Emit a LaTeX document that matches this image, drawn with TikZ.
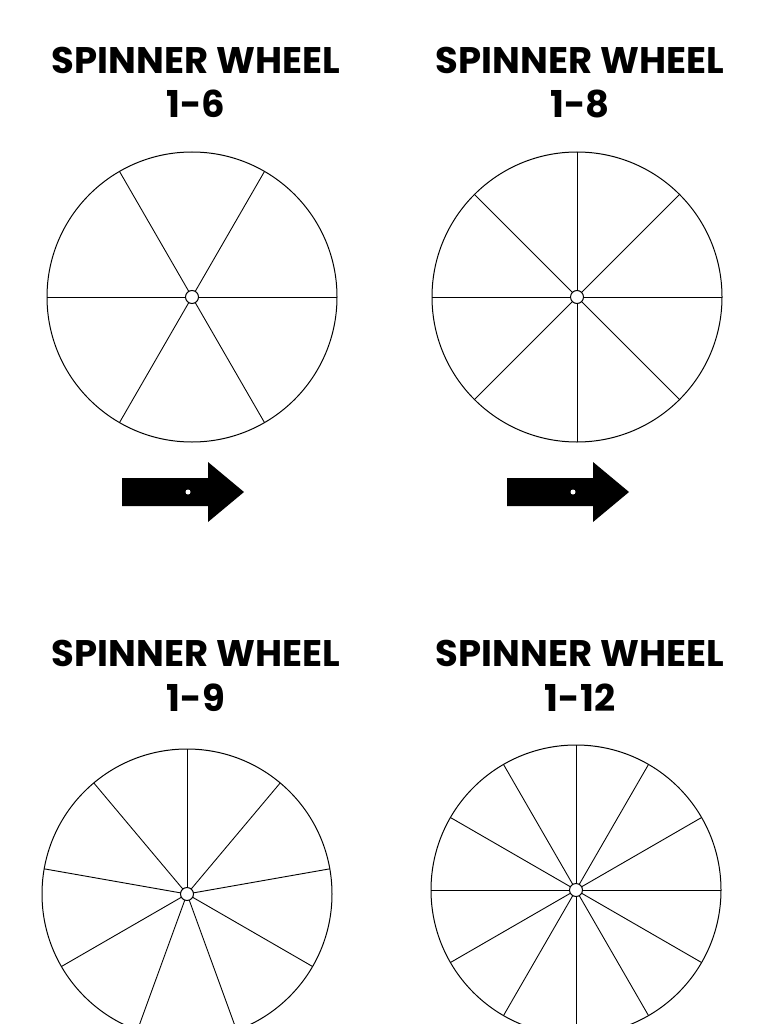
\documentclass[tikz,border=0pt]{standalone}
\usepackage{fontspec}
\setmainfont{Poppins}
\begin{document}
\begin{tikzpicture}[x=1pt,y=-1pt,
  ttl/.style={font=\fontsize{37}{44}\selectfont\bfseries, inner sep=0pt, anchor=center},
  rim/.style={draw=black, line width=1pt},
  spoke/.style={draw=black, line width=0.9pt},
  hub/.style={circle, draw=black, fill=white, line width=1pt, minimum size=13pt, inner sep=0pt}]
\useasboundingbox (0,0) rectangle (768,1024);
\fill[white] (0,0) rectangle (768,1024);
% titles
\node[ttl] (t1a) at (196,60) {SPINNER WHEEL};
\node[ttl] (t1b) at (196,104) {1-6};
\node[ttl] (t2a) at (580,60) {SPINNER WHEEL};
\node[ttl] (t2b) at (580,104) {1-8};
\node[ttl] (t3a) at (196,653) {SPINNER WHEEL};
\node[ttl] (t3b) at (196,698) {1-9};
\node[ttl] (t4a) at (580,653) {SPINNER WHEEL};
\node[ttl] (t4b) at (580,698) {1-12};
% wheels
\foreach \cx/\cy/\n/\off/\nm in {192/297/6/0/a, 577/297/8/0/b, 187/894/9/90/c, 576/890/12/0/d}{
  \draw[rim] (\cx,\cy) circle (145);
  \pgfmathsetmacro{\st}{360/\n}
  \foreach \k in {1,...,\n}{
    \draw[spoke] (\cx,\cy) -- ++({\off+\k*\st}:145 and -145);
  }
  \node[hub] (hub\nm) at (\cx,\cy) {};
}
% arrows
\foreach \ax/\nm in {122/a, 507/b}{
  \fill[black] (\ax,478) -- ++(86,0) -- ++(0,-16) -- ++(36,30) -- ++(-36,30) -- ++(0,-16) -- ++(-86,0) -- cycle;
  \fill[white] (\ax+66,492) circle (2.5);
}
\end{tikzpicture}
\end{document}
